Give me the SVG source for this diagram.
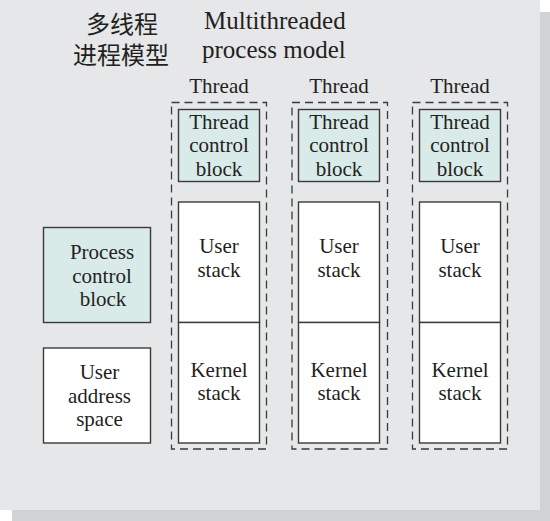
<svg xmlns="http://www.w3.org/2000/svg" width="550" height="521" viewBox="0 0 550 521">
<style>
.box{stroke:#3a3a3a;stroke-width:1.4;fill:#ffffff}
.tcb{fill:#d9ebe8}
.dash{fill:none;stroke:#3a3a3a;stroke-width:1.3;stroke-dasharray:8 5}
.t{font-family:'Liberation Serif','Times New Roman','DejaVu Serif',serif;font-size:21px;fill:#231f20;text-anchor:middle}
.title{font-family:'Liberation Serif','Times New Roman','DejaVu Serif',serif;font-size:25px;fill:#231f20}
.cjk{font-family:'Noto Sans CJK SC','Noto Sans CJK JP',sans-serif;font-size:24px;fill:#231f20}
</style>
<rect width="550" height="521" fill="#ffffff"/>
<rect x="12" y="12" width="538" height="509" fill="#d1d2d3"/>
<rect x="0" y="0" width="540" height="510" fill="#e6e7e8"/>
<g id="title">
<text class="cjk"><tspan x="86" y="33">多线程</tspan><tspan x="73" y="64">进程模型</tspan></text>
<text class="title"><tspan x="204" y="29">Multithreaded</tspan><tspan x="202" y="58">process model</tspan></text>
</g>
<g id="pcb">
<rect class="box tcb" x="43.5" y="227.5" width="107" height="95"/>
<text class="t"><tspan x="102" y="259">Process</tspan><tspan x="102" y="282.5">control</tspan><tspan x="103" y="306">block</tspan></text>
</g>
<g id="uas">
<rect class="box" x="43.5" y="348" width="107" height="95"/>
<text class="t"><tspan x="99.5" y="379">User</tspan><tspan x="99.5" y="402.5">address</tspan><tspan x="99.5" y="426">space</tspan></text>
</g>
<g id="thread1">
<text class="t" x="219" y="93">Thread</text>
<rect class="dash" x="171.5" y="102.5" width="95" height="346.5"/>
<rect class="box tcb" x="178.5" y="109.5" width="81" height="72"/>
<text class="t"><tspan x="219" y="128.5">Thread</tspan><tspan x="219" y="152">control</tspan><tspan x="219" y="175.5">block</tspan></text>
<rect class="box" x="178.5" y="202" width="81" height="120.5"/>
<text class="t"><tspan x="219" y="253">User</tspan><tspan x="219" y="276.5">stack</tspan></text>
<rect class="box" x="178.5" y="322.5" width="81" height="120.5"/>
<text class="t"><tspan x="219" y="376.5">Kernel</tspan><tspan x="219" y="400">stack</tspan></text>
</g>
<g id="thread2">
<text class="t" x="339" y="93">Thread</text>
<rect class="dash" x="292" y="102.5" width="95.5" height="346.5"/>
<rect class="box tcb" x="298.5" y="109.5" width="81" height="72"/>
<text class="t"><tspan x="339" y="128.5">Thread</tspan><tspan x="339" y="152">control</tspan><tspan x="339" y="175.5">block</tspan></text>
<rect class="box" x="298.5" y="202" width="81" height="120.5"/>
<text class="t"><tspan x="339" y="253">User</tspan><tspan x="339" y="276.5">stack</tspan></text>
<rect class="box" x="298.5" y="322.5" width="81" height="120.5"/>
<text class="t"><tspan x="339" y="376.5">Kernel</tspan><tspan x="339" y="400">stack</tspan></text>
</g>
<g id="thread3">
<text class="t" x="460" y="93">Thread</text>
<rect class="dash" x="412.5" y="102.5" width="95" height="346.5"/>
<rect class="box tcb" x="419.5" y="109.5" width="81" height="72"/>
<text class="t"><tspan x="460" y="128.5">Thread</tspan><tspan x="460" y="152">control</tspan><tspan x="460" y="175.5">block</tspan></text>
<rect class="box" x="419.5" y="202" width="81" height="120.5"/>
<text class="t"><tspan x="460" y="253">User</tspan><tspan x="460" y="276.5">stack</tspan></text>
<rect class="box" x="419.5" y="322.5" width="81" height="120.5"/>
<text class="t"><tspan x="460" y="376.5">Kernel</tspan><tspan x="460" y="400">stack</tspan></text>
</g>
<g id="connectors"></g>
</svg>
